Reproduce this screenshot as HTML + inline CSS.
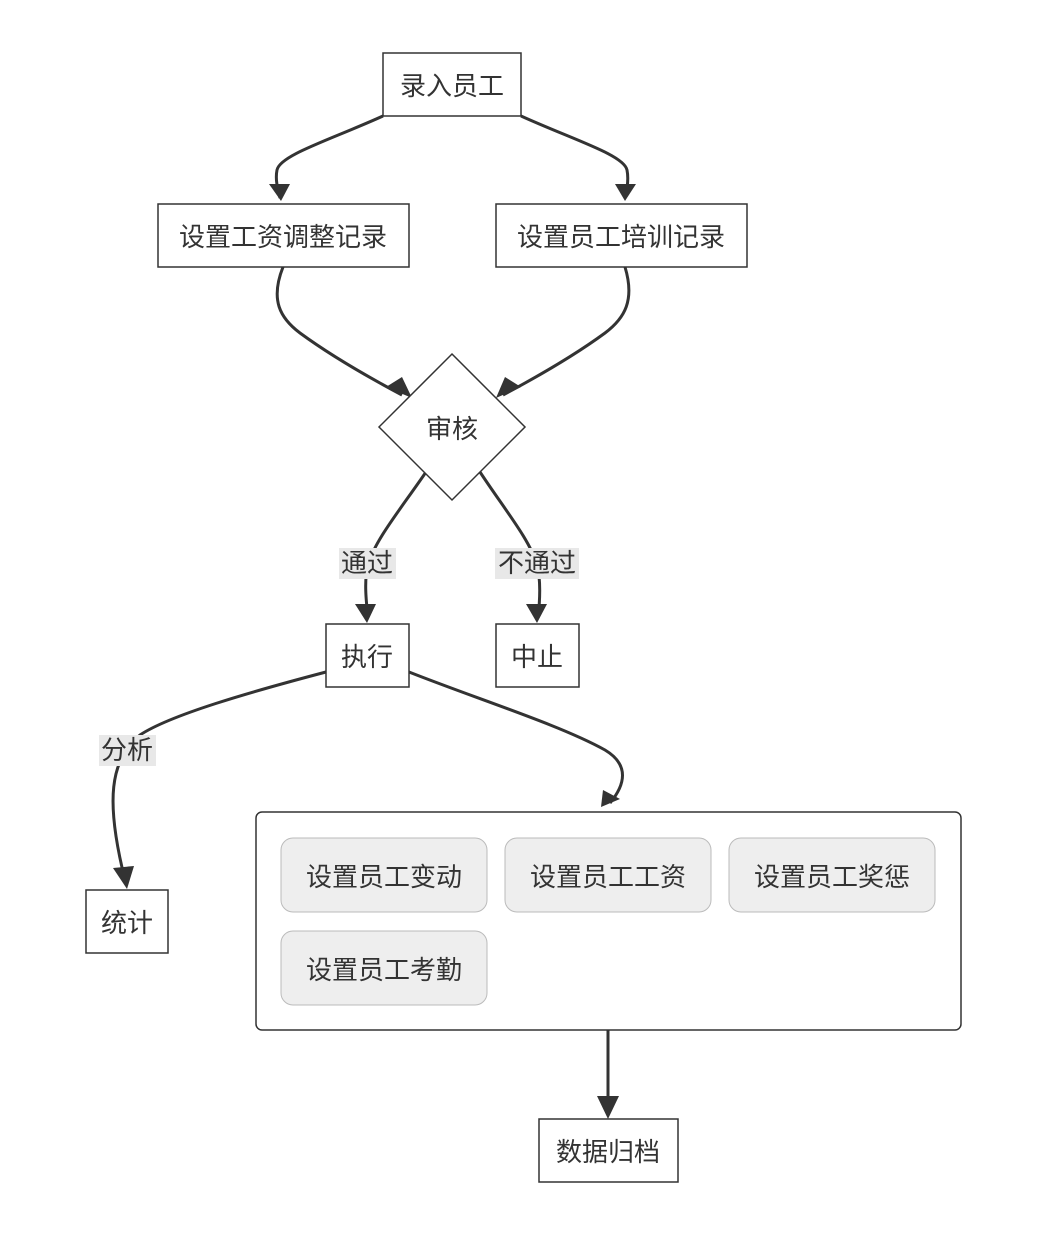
<!DOCTYPE html>
<html><head><meta charset="utf-8"><style>
html,body{margin:0;padding:0;background:#fff;}
svg{display:block;}
text{font-family:"Liberation Sans","Noto Sans CJK SC",sans-serif;font-size:26px;fill:#333;text-anchor:middle;dominant-baseline:central;}
</style></head><body>
<svg width="1046" height="1239" viewBox="0 0 1046 1239" xmlns="http://www.w3.org/2000/svg">
<defs>
<marker id="a" viewBox="0 0 10 10" refX="9" refY="5" markerWidth="7" markerHeight="7" markerUnits="userSpaceOnUse" orient="auto" overflow="visible">
<path d="M0,0 L10,5 L0,10 z" fill="#333" transform="scale(2.2) translate(-5.5,-2.7)"/>
</marker>
</defs>
<g fill="none" stroke="#333" stroke-width="3">
<path d="M383,116 C330,140 280,155 277,170 C275,180 278,190 280,198" />
<path d="M521,116 C574,140 624,155 627,170 C629,180 627,190 625,198"/>
<path d="M283,267 C270,300 280,318 300,333 C330,355 370,378 402,395"/>
<path d="M625,267 C635,300 625,318 605,333 C575,355 535,378 503,395"/>
<path d="M426,472 C400,510 375,540 368,565 C364,580 366,600 368,618"/>
<path d="M480,472 C505,510 530,540 537,565 C541,580 540,600 538,618"/>
<path d="M326,672 C250,692 170,715 140,735 C110,760 105,800 125,880"/>
<path d="M409,672 C480,700 560,725 605,750 C630,765 625,785 610,803"/>
<path d="M608,1030 L608,1112"/>
</g>
<g fill="#333">
<polygon points="269,184 290,184 281,201"/>
<polygon points="615,184 636,184 625,201"/>
<polygon points="386,387 402,377 412,398"/>
<polygon points="505,377 521,387 496,398"/>
<polygon points="355,604 376,604 367,623"/>
<polygon points="526,604 547,604 537,623"/>
<polygon points="113,868 134,866 127,889"/>
<polygon points="603,790 620,799 601,807"/>
<polygon points="597,1096 619,1096 608,1119"/>
</g>
<g fill="#fff" stroke="#333" stroke-width="1.5">
<rect x="383" y="53" width="138" height="63"/>
<rect x="158" y="204" width="251" height="63"/>
<rect x="496" y="204" width="251" height="63"/>
<polygon points="452,354 525,427 452,500 379,427"/>
<rect x="326" y="624" width="83" height="63"/>
<rect x="496" y="624" width="83" height="63"/>
<rect x="86" y="890" width="82" height="63"/>
<rect x="256" y="812" width="705" height="218" rx="6"/>
<rect x="539" y="1119" width="139" height="63"/>
</g>
<g fill="#eee" stroke="#bbb" stroke-width="1">
<rect x="281" y="838" width="206" height="74" rx="12"/>
<rect x="505" y="838" width="206" height="74" rx="12"/>
<rect x="729" y="838" width="206" height="74" rx="12"/>
<rect x="281" y="931" width="206" height="74" rx="12"/>
</g>
<g fill="#e8e8e8">
<rect x="339" y="548" width="57" height="31"/>
<rect x="495" y="548" width="84" height="31"/>
<rect x="99" y="735" width="57" height="31"/>
</g>
<text x="452" y="86">录入员工</text>
<text x="283" y="237">设置工资调整记录</text>
<text x="621" y="237">设置员工培训记录</text>
<text x="452" y="429">审核</text>
<text x="367" y="563">通过</text>
<text x="537" y="563">不通过</text>
<text x="367" y="657">执行</text>
<text x="537" y="657">中止</text>
<text x="127" y="750">分析</text>
<text x="127" y="923">统计</text>
<text x="384" y="877">设置员工变动</text>
<text x="608" y="877">设置员工工资</text>
<text x="832" y="877">设置员工奖惩</text>
<text x="384" y="970">设置员工考勤</text>
<text x="608" y="1152">数据归档</text>
</svg>
</body></html>
